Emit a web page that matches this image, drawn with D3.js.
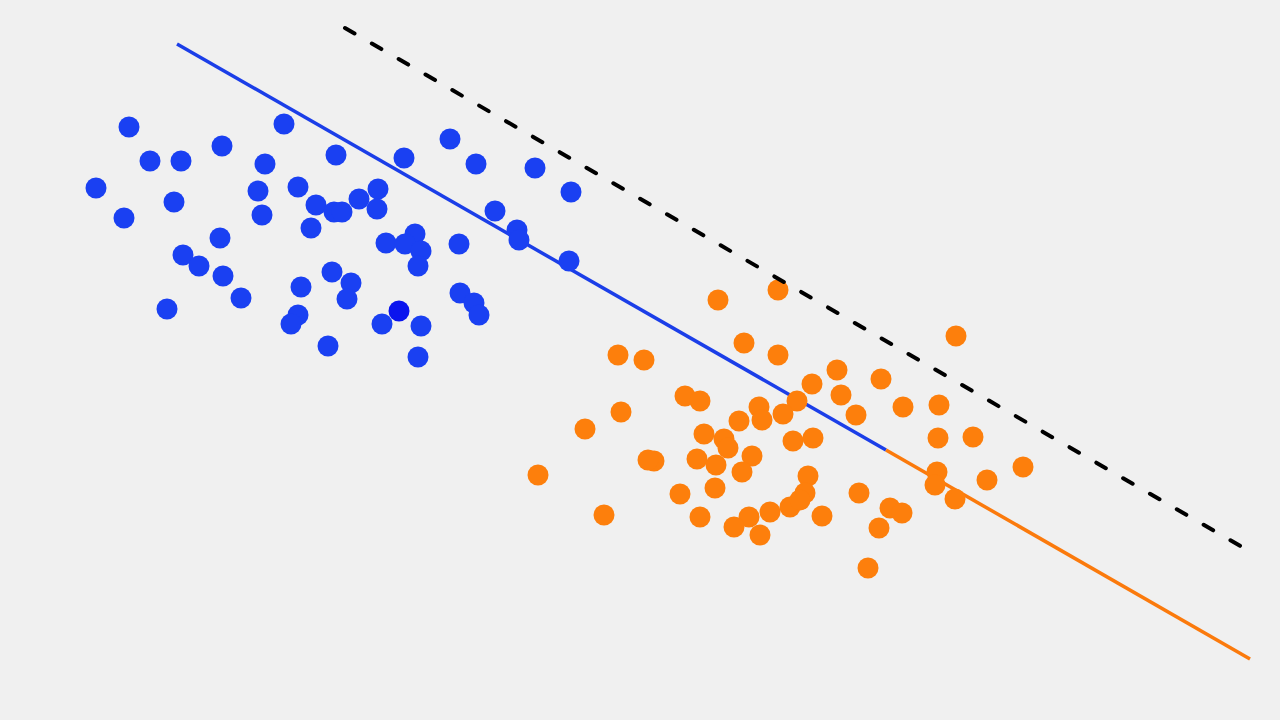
<!DOCTYPE html>
<html>
<head>
<meta charset="utf-8">
<script src="https://cdn.jsdelivr.net/npm/d3@7"></script>
<style>
  html, body { margin: 0; padding: 0; background: #f0f0f0; }
  svg { display: block; }
</style>
</head>
<body>
<div id="chart"></div>
<script>
// class A (blue) points, [x, y]
const blueX = [-5.11, -3.56, -4.18, -4.90, -4.59, -3.75, -3.04, -5.44, -3.82, -3.42, -4.66, -3.24, -3.06, -2.98,
  -3.78, -5.16, -3.29, -4.20, -4.57, -4.41, -4.17, -3.08, -3.39, -3.99, -4.73, -3.42, -3.49, -3.12,
  -2.36, -1.90, -1.64, -1.05, -0.69, -2.62, -2.81, -2.63, -1.45, -1.23, -1.21, -2.54, -2.25, -2.35,
  -2.19, -2.22, -1.81, -0.71, -2.89, -2.93, -2.41, -2.58, -2.19, -2.22, -1.80, -1.66, -1.61];
const blueY = [2.33, 2.36, 2.14, 1.99, 1.99, 1.96, 2.05, 1.72, 1.69, 1.73, 1.58, 1.55, 1.48, 1.48,
  1.45, 1.42, 1.32, 1.22, 1.05, 0.94, 0.84, 0.88, 0.73, 0.62, 0.51, 0.45, 0.36, 0.14,
  2.02, 2.21, 1.96, 1.92, 1.68, 1.71, 1.61, 1.51, 1.49, 1.30, 1.20, 1.17, 1.26, 1.16,
  1.09, 0.94, 1.16, 0.99, 0.77, 0.61, 0.49, 0.36, 0.34, 0.03, 0.67, 0.57, 0.45];
// the one darker point
const highlightIndex = 48;

// class B (orange) points
const orangeX = [0.78, 1.38, 1.04, 1.38, -0.22, 0.04, 1.72, 0.45, 0.60, 1.57, 1.19, 1.22, 1.43, -0.19,
  0.99, -0.55, 0.64, 0.84, 0.88, 1.53, 1.73, 1.12, 0.57, 0.76, 1.02, 0.14, 0.08, -1.02,
  1.68, 1.65, 0.75, 0.40, 1.50, 1.30, 1.09, 0.94, 1.20, 0.60, -0.36, 1.82,
  3.16, 1.97, 2.41, 2.01, 2.16, 2.63, 2.99, 2.98, 3.33, 2.97, 2.95, 3.15, 3.47, 3.83,
  2.19, 2.50, 2.62, 2.39, 2.28, 1.60];
const orangeY = [0.60, 0.70, 0.17, 0.05, 0.05, 0.00, -0.24, -0.36, -0.41, -0.41, -0.47, -0.60, -0.54, -0.52,
  -0.61, -0.69, -0.74, -0.79, -0.88, -0.81, -0.78, -0.96, -0.99, -1.05, -1.12, -1.01, -1.00, -1.15,
  -1.16, -1.33, -1.28, -1.34, -1.47, -1.52, -1.57, -1.67, -1.75, -1.57, -1.55, -1.56,
  0.24, -0.10, -0.19, -0.35, -0.55, -0.47, -0.45, -0.78, -0.77, -1.12, -1.25, -1.39, -1.20, -1.07,
  -1.33, -1.48, -1.53, -1.68, -2.08, -1.40];

// separating line (blue part, orange part) and the dashed margin
const boundaryBlue = [[-4.63, 3.16], [2.46, -0.90]];
const boundaryOrange = [[2.46, -0.90], [6.10, -2.99]];
const marginLine = [[-2.95, 3.32], [6.02, -1.87]];

const width = 1280;
const height = 720;
const r = 10.5;

const svg = d3.select('#chart').append('svg')
  .attr('width', width)
  .attr('height', height);

svg.append('rect')
  .attr('width', width)
  .attr('height', height)
  .attr('fill', '#f0f0f0');

const x = d3.scaleLinear().domain([-6.4, 6.4]).range([0, width]);
const y = d3.scaleLinear().domain([-3.6, 3.6]).range([height, 0]);

const line = d3.line()
  .x(d => x(d[0]))
  .y(d => y(d[1]));

// boundary
svg.append('path')
  .attr('d', line(boundaryBlue))
  .attr('fill', 'none')
  .attr('stroke', '#1b3ee8')
  .attr('stroke-width', 3.5);

svg.append('path')
  .attr('d', line(boundaryOrange))
  .attr('fill', 'none')
  .attr('stroke', '#fb7a0c')
  .attr('stroke-width', 3.5);

// points
const blue = blueX.map((v, i) => ({ x: v, y: blueY[i], i }));
const orange = orangeX.map((v, i) => ({ x: v, y: orangeY[i] }));

svg.append('g').selectAll('circle')
  .data(blue)
  .enter()
  .append('circle')
  .attr('cx', d => x(d.x))
  .attr('cy', d => y(d.y))
  .attr('r', r)
  .attr('fill', d => d.i === highlightIndex ? '#0a14ee' : '#1a40f2');

svg.append('g').selectAll('circle')
  .data(orange)
  .enter()
  .append('circle')
  .attr('cx', d => x(d.x))
  .attr('cy', d => y(d.y))
  .attr('r', r)
  .attr('fill', '#fd7f0c');

// dashed margin
svg.append('path')
  .attr('d', line(marginLine))
  .attr('fill', 'none')
  .attr('stroke', '#000')
  .attr('stroke-width', 4)
  .attr('stroke-linecap', 'round')
  .attr('stroke-dasharray', '11,20');
</script>
</body>
</html>
